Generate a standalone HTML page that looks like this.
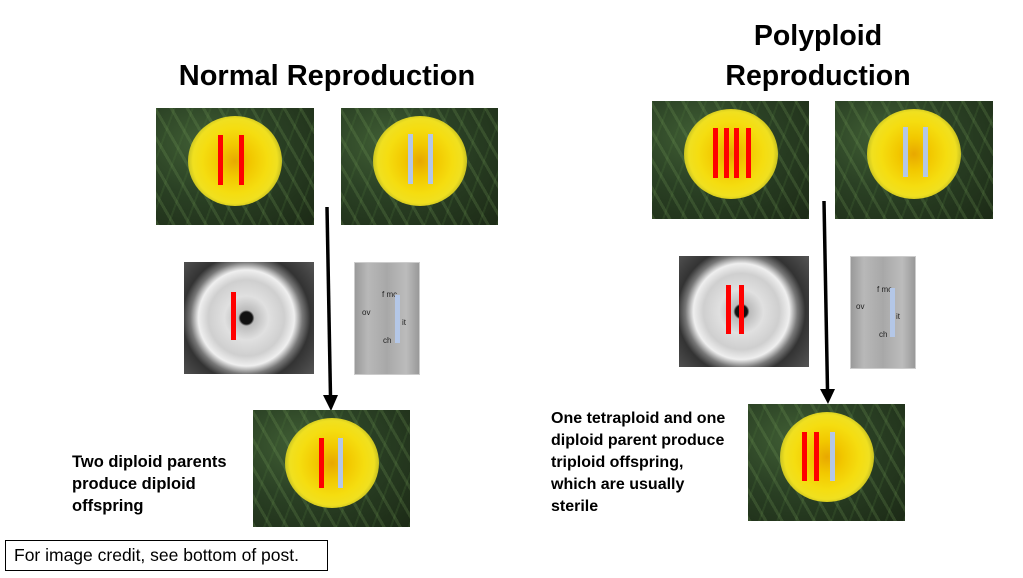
<!DOCTYPE html>
<html><head><style>
body{margin:0;width:1023px;height:578px;background:#fff;position:relative;overflow:hidden;font-family:"Liberation Sans",sans-serif}
.a{position:absolute}
.d{position:absolute;overflow:hidden;background:radial-gradient(ellipse at 30% 30%,#405e34 0%,#2a4024 45%,#1c2a16 100%)}
.d::before{content:"";position:absolute;left:0;top:0;right:0;bottom:0;background:repeating-linear-gradient(60deg,rgba(120,160,90,.22) 0 3px,transparent 3px 14px),repeating-linear-gradient(-70deg,rgba(80,120,60,.2) 0 2px,transparent 2px 17px)}
.d::after{content:"";position:absolute;left:32px;top:8px;width:94px;height:90px;border-radius:50%;background:radial-gradient(circle,#e8a800 0%,#f2c800 25%,#f5dd10 50%,#f0e020 65%,rgba(230,220,30,.6) 80%,rgba(200,200,30,.2) 92%,transparent 100%)}
.p{position:absolute;overflow:hidden;background:radial-gradient(circle at 48% 50%,#111 0 6px,#bbb 8px,#e0e0e0 22px,#cfcfcf 38px,#efefef 48px,#777 56px,#333 64px,#555 100%)}
.o{position:absolute;background:linear-gradient(90deg,#9a9a9a,#b8b8b8 20%,#a8a8a8 50%,#bcbcbc 80%,#999);border:1px solid #ccc}
.r{position:absolute;background:#ff0000;z-index:2}
.b{position:absolute;background:#b4c7e7;z-index:2}
.t{position:absolute;font-weight:bold;color:#000}
.s{position:absolute;font-size:8px;color:#222}
</style></head><body>
<div class="t" style="left:120px;top:60px;width:414px;text-align:center;font-size:29px">Normal Reproduction</div>
<div class="t" style="left:640px;top:16px;width:356px;text-align:center;font-size:28.5px;line-height:40px">Polyploid<br>Reproduction</div>

<div class="d" style="left:156px;top:108px;width:158px;height:117px"></div>
<div class="r" style="left:218px;top:135px;width:5px;height:50px"></div>
<div class="r" style="left:239px;top:135px;width:5px;height:50px"></div>
<div class="d" style="left:341px;top:108px;width:157px;height:117px"></div>
<div class="b" style="left:408px;top:134px;width:5px;height:50px"></div>
<div class="b" style="left:428px;top:134px;width:5px;height:50px"></div>

<div class="p" style="left:184px;top:262px;width:130px;height:112px"></div>
<div class="r" style="left:231px;top:292px;width:5px;height:48px"></div>
<div class="o" style="left:354px;top:262px;width:64px;height:111px"></div>
<div class="s" style="left:362px;top:308px">ov</div><div class="s" style="left:382px;top:290px">f mc</div><div class="s" style="left:402px;top:318px">it</div><div class="s" style="left:383px;top:336px">ch</div>
<div class="b" style="left:395px;top:295px;width:5px;height:48px"></div>

<svg class="a" style="left:0;top:0" width="1023" height="578">
<line x1="327" y1="207" x2="330.5" y2="397" stroke="#000" stroke-width="3.5"/>
<polygon points="323,395 338,395 331,411" fill="#000"/>
<line x1="824" y1="201" x2="827.5" y2="390" stroke="#000" stroke-width="3.5"/>
<polygon points="820,389 835,389 828,404" fill="#000"/>
</svg>

<div class="d" style="left:253px;top:410px;width:157px;height:117px"></div>
<div class="r" style="left:319px;top:438px;width:5px;height:50px"></div>
<div class="b" style="left:338px;top:438px;width:5px;height:50px"></div>
<div class="t" style="left:72px;top:451px;font-size:16.5px;line-height:22px">Two diploid parents<br>produce diploid<br>offspring</div>

<div class="d" style="left:652px;top:101px;width:157px;height:118px"></div>
<div class="r" style="left:713px;top:128px;width:5px;height:50px"></div>
<div class="r" style="left:724px;top:128px;width:5px;height:50px"></div>
<div class="r" style="left:734px;top:128px;width:5px;height:50px"></div>
<div class="r" style="left:746px;top:128px;width:5px;height:50px"></div>
<div class="d" style="left:835px;top:101px;width:158px;height:118px"></div>
<div class="b" style="left:903px;top:127px;width:5px;height:50px"></div>
<div class="b" style="left:923px;top:127px;width:5px;height:50px"></div>

<div class="p" style="left:679px;top:256px;width:130px;height:111px"></div>
<div class="r" style="left:726px;top:285px;width:5px;height:49px"></div>
<div class="r" style="left:739px;top:285px;width:5px;height:49px"></div>
<div class="o" style="left:850px;top:256px;width:64px;height:111px"></div>
<div class="s" style="left:856px;top:302px">ov</div><div class="s" style="left:877px;top:285px">f mc</div><div class="s" style="left:896px;top:312px">it</div><div class="s" style="left:879px;top:330px">ch</div>
<div class="b" style="left:890px;top:288px;width:5px;height:49px"></div>

<div class="d" style="left:748px;top:404px;width:157px;height:117px"></div>
<div class="r" style="left:802px;top:432px;width:5px;height:49px"></div>
<div class="r" style="left:814px;top:432px;width:5px;height:49px"></div>
<div class="b" style="left:830px;top:432px;width:5px;height:49px"></div>
<div class="t" style="left:551px;top:408px;font-size:16px;line-height:22px">One tetraploid and one<br>diploid parent produce<br>triploid offspring,<br>which are usually<br>sterile</div>

<div class="a" style="left:5px;top:540px;border:1px solid #000;font-size:17.5px;line-height:29px;box-sizing:border-box;padding-left:8px;width:323px;height:31px">For image credit, see bottom of post.</div>
</body></html>
